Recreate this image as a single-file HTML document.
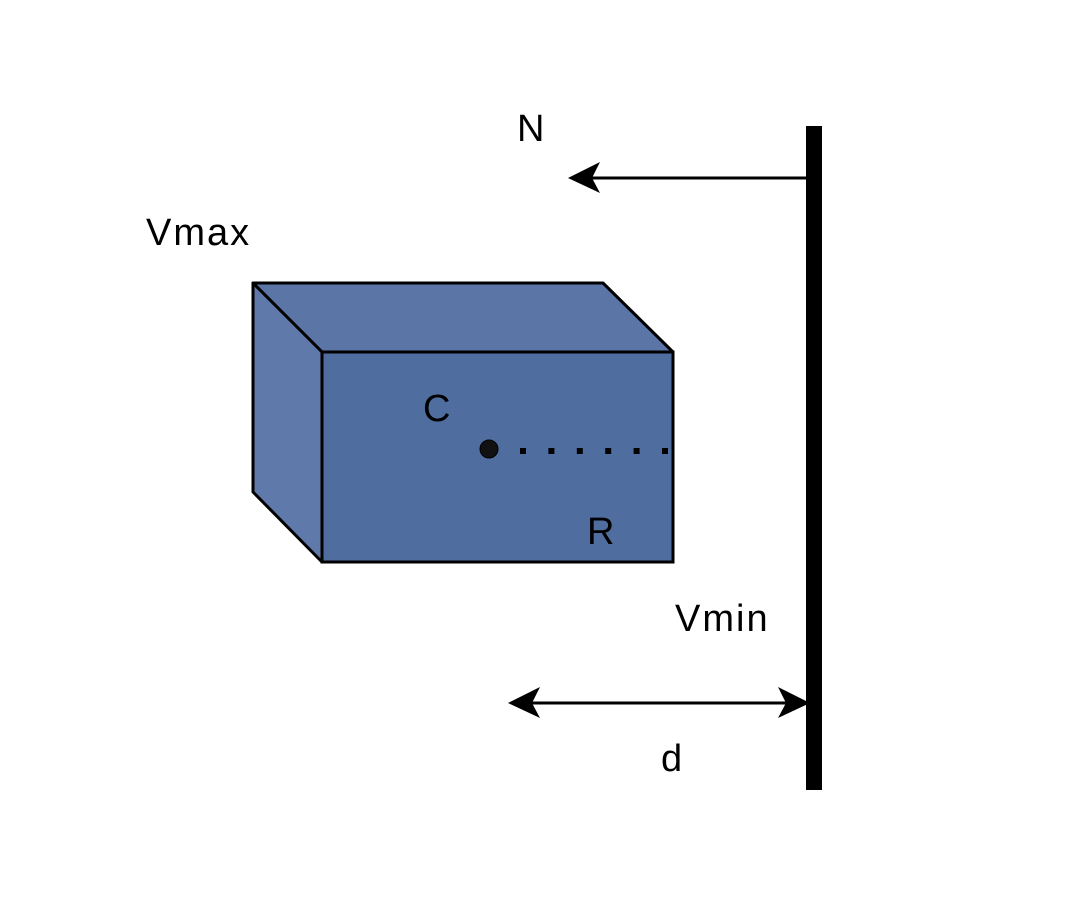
<!DOCTYPE html>
<html><head><meta charset="utf-8"><style>
html,body{margin:0;padding:0;background:#fff;}
svg{display:block;}
text{font-family:"Liberation Sans",Arial,sans-serif;font-size:38px;fill:#000;letter-spacing:2px;}
</style></head><body>
<svg width="1068" height="924" viewBox="0 0 1068 924">
<polygon points="253,283 603,283 673,352 322,352" fill="#5a75a6" stroke="#000" stroke-width="3" stroke-linejoin="round"/>
<polygon points="253,283 322,352 322,562 253,492" fill="#5f7aaa" stroke="#000" stroke-width="3" stroke-linejoin="round"/>
<rect x="322" y="352" width="351" height="210" fill="#506da0" stroke="#000" stroke-width="3"/>
<circle cx="489" cy="449" r="9" fill="#111" stroke="#000" stroke-width="1"/>
<line x1="520" y1="451" x2="670" y2="451" stroke="#000" stroke-width="6" stroke-dasharray="6,22.4"/>
<rect x="806" y="126" width="16" height="664" fill="#000"/>
<line x1="806" y1="178" x2="590" y2="178" stroke="#000" stroke-width="3"/>
<polygon points="568,178 600,162 592,178 600,193" fill="#000"/>
<line x1="530" y1="703" x2="790" y2="703" stroke="#000" stroke-width="3"/>
<polygon points="508,703 540,687 532,703 540,718" fill="#000"/>
<polygon points="810,703 778,687 786,703 778,718" fill="#000"/>
<text x="517" y="141">N</text>
<text x="146" y="245">Vmax</text>
<text x="423" y="421">C</text>
<text x="587" y="544">R</text>
<text x="675" y="631">Vmin</text>
<text x="661" y="771">d</text>
</svg>
</body></html>
